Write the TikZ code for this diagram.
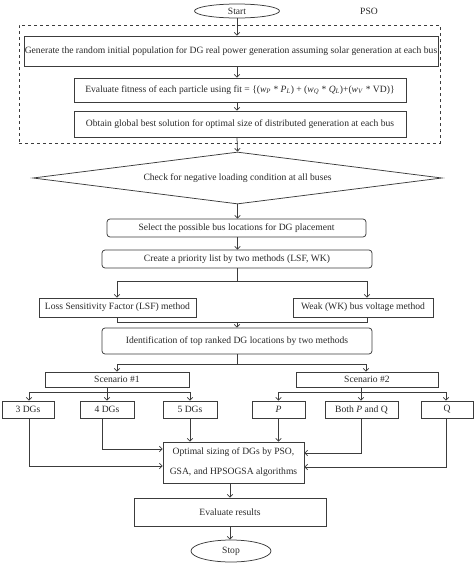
\documentclass[tikz,border=0pt]{standalone}
\usepackage{fontspec}
\setmainfont{Liberation Serif}
\usetikzlibrary{arrows.meta,shapes.geometric,calc}
\definecolor{ln}{RGB}{60,60,60}
\definecolor{tx}{RGB}{40,40,40}
\newcommand\itsub[2]{\textit{#1}\textsubscript{\textit{#2}}}
\begin{document}
\begin{tikzpicture}[x=1pt,y=-1pt,
  every node/.style={text=tx,font=\fontsize{9.6}{11}\selectfont},
  arr/.style={draw=ln,line width=0.75pt,-{Straight Barb[length=2.8pt,width=5.5pt]}},
  ln/.style={draw=ln,line width=0.75pt},
  sbox/.style={draw=ln,line width=0.75pt,rectangle,inner sep=0pt},
  rbox/.style={sbox,rounded corners=3pt},
  oval/.style={draw=ln,line width=0.75pt,ellipse,inner sep=0pt}]
\useasboundingbox (0,0) rectangle (474,563);
% nodes
\node[oval,minimum width=85,minimum height=14] (start) at (237,11) {Start};
\node (pso) at (369,11) {PSO};
\node[draw=ln,line width=0.75pt,dashed,rectangle,minimum width=421,minimum height=118,inner sep=0pt] (frame) at (229.5,84) {};
\node[sbox,minimum width=414,minimum height=30] (b1) at (231,51) {Generate the random initial population for DG real power generation assuming solar generation at each bus};
\node[sbox,minimum width=332,minimum height=24] (b2) at (240,90) {Evaluate fitness of each particle using fit = \{(\itsub{w}{P} * \itsub{P}{L}) + (\itsub{w}{Q} * \itsub{Q}{L})+(\itsub{w}{V} * VD)\}};
\node[sbox,minimum width=332,minimum height=26] (b3) at (240,124) {Obtain global best solution for optimal size of distributed generation at each bus};
\node[draw=ln,line width=0.75pt,diamond,aspect=7.8,inner sep=0pt,minimum width=409,minimum height=52] (chk) at (237.5,178) {Check for negative loading condition at all buses};
\node[rbox,minimum width=259,minimum height=18] (sel) at (236.5,228) {Select the possible bus locations for DG placement};
\node[rbox,minimum width=270,minimum height=18] (cre) at (237,259) {Create a priority list by two methods (LSF, WK)};
\node[sbox,minimum width=157,minimum height=19] (lsf) at (117.5,307.5) {Loss Sensitivity Factor (LSF) method};
\node[sbox,minimum width=140,minimum height=19] (wk) at (363,307.5) {Weak (WK) bus voltage method};
\node[rbox,minimum width=270,minimum height=26] (ide) at (237,341) {Identification of top ranked DG locations by two methods};
\node[sbox,minimum width=144,minimum height=15] (sc1) at (117,379.5) {Scenario \#1};
\node[sbox,minimum width=142,minimum height=15] (sc2) at (367,379.5) {Scenario \#2};
\node[sbox,minimum width=52,minimum height=17] (d3) at (28,409.5) {3 DGs};
\node[sbox,minimum width=54,minimum height=17] (d4) at (107,409.5) {4 DGs};
\node[sbox,minimum width=54,minimum height=17] (d5) at (190,409.5) {5 DGs};
\node[sbox,minimum width=53,minimum height=17] (pp) at (278.5,409.5) {\textit{P}};
\node[sbox,minimum width=73,minimum height=17] (pq) at (361.5,409.5) {Both \textit{P} and Q};
\node[sbox,minimum width=52,minimum height=17] (qq) at (447,409.5) {Q};
\node[sbox,minimum width=141,minimum height=41,align=center,font=\fontsize{9.6}{20}\selectfont] (opt) at (233.5,462.5) {Optimal sizing of DGs by PSO,\\GSA, and HPSOGSA algorithms};
\node[sbox,minimum width=192,minimum height=28] (eva) at (230,512) {Evaluate results};
\node[oval,minimum width=80,minimum height=22] (stop) at (231,551) {Stop};
% junction coordinates
\coordinate (j1) at (237,281);
\coordinate (j1l) at (117,281);
\coordinate (j1r) at (367,281);
\coordinate (j2) at (237,322);
\coordinate (j2l) at (117,322);
\coordinate (j2r) at (367,322);
\coordinate (j3) at (237,364);
\coordinate (j3l) at (117,364);
\coordinate (j3r) at (366,364);
\coordinate (s1) at (107,392);
\coordinate (s1l) at (29,392);
\coordinate (s1r) at (190,392);
\coordinate (s2) at (361,392);
\coordinate (s2l) at (278.5,392);
\coordinate (s2r) at (446,392);
% connectors
\draw[arr] (start.south) -- (start.south |- b1.north);
\draw[arr] (start.south |- b1.south) -- (start.south |- b2.north);
\draw[arr] (start.south |- b2.south) -- (start.south |- b3.north);
\draw[arr] (start.south |- b3.south) -- (chk.north);
\draw[arr] (chk.south) -- (chk.south |- sel.north);
\draw[arr] (chk.south |- sel.south) -- (chk.south |- cre.north);
\draw[ln] (cre.south) -- (j1);
\draw[ln] (j1l) -- (j1r);
\draw[arr] (j1l) -- (j1l |- lsf.north);
\draw[arr] (j1r) -- (j1r |- wk.north);
\draw[ln] (j2l |- lsf.south) -- (j2l) -- (j2r) -- (j2r |- wk.south);
\draw[arr] (j2) -- (ide.north);
\draw[ln] (ide.south) -- (j3);
\draw[ln] (j3l) -- (j3r);
\draw[arr] (j3l) -- (j3l |- sc1.north);
\draw[arr] (j3r) -- (j3r |- sc2.north);
\draw[ln] (s1 |- sc1.south) -- (s1);
\draw[ln] (s1l) -- (s1r);
\draw[arr] (s1l) -- (s1l |- d3.north);
\draw[arr] (s1) -- (d4.north);
\draw[arr] (s1r) -- (d5.north);
\draw[ln] (s2 |- sc2.south) -- (s2);
\draw[ln] (s2l) -- (s2r);
\draw[arr] (s2l) -- (pp.north);
\draw[arr] (s2) -- (s2 |- pq.north);
\draw[arr] (s2r) -- (s2r |- qq.north);
\coordinate (k3) at (29,466);
\coordinate (k4) at (102,449);
\coordinate (kb) at (361,453);
\coordinate (kq) at (446,467);
\draw[arr] (k3 |- d3.south) -- (k3) -- (k3 -| opt.west);
\draw[arr] (k4 |- d4.south) -- (k4) -- (k4 -| opt.west);
\draw[arr] (d5.south) -- (d5.south |- opt.north);
\draw[arr] (pp.south) -- (pp.south |- opt.north);
\draw[arr] (kb |- pq.south) -- (kb) -- (kb -| opt.east);
\draw[arr] (kq |- qq.south) -- (kq) -- (kq -| opt.east);
\draw[arr] (eva.north |- opt.south) -- (eva.north);
\draw[arr] (eva.south) -- (eva.south |- stop.north);
\end{tikzpicture}
\end{document}
